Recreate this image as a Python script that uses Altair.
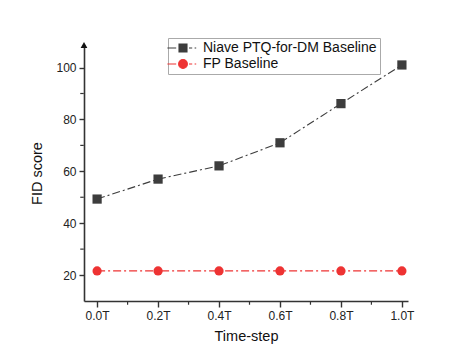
import altair as alt
import pandas as pd

steps = [0.0, 0.2, 0.4, 0.6, 0.8, 1.0]
niave = [49.3, 57.0, 62.1, 71.0, 86.1, 101.0]
fp = [21.6, 21.6, 21.6, 21.6, 21.6, 21.6]
names = ["Niave PTQ-for-DM Baseline", "FP Baseline"]
y_ticks = [20, 40, 60, 80, 100]
y_minor = [30, 50, 70, 90]
x_minor = [0.1, 0.3, 0.5, 0.7, 0.9]

rows = []
for s, a, b in zip(steps, niave, fp):
    rows.append({"step": s, "fid": a, "series": names[0]})
    rows.append({"step": s, "fid": b, "series": names[1]})
df = pd.DataFrame(rows)

colors = ["#3d3d3d", "#ee3333"]
xs = alt.Scale(domain=[-0.043, 1.02], nice=False, zero=False)
ys = alt.Scale(domain=[10, 108.7], nice=False, zero=False)

axis_common = dict(
    domainColor="#333333", domainWidth=1.6, tickColor="#333333", tickWidth=1.4,
    labelFont="Liberation Sans", labelFontSize=12, labelColor="#222222",
    titleFont="Liberation Sans", titleFontSize=14.5, titleFontWeight="normal",
    titleColor="#111111", grid=False,
)

x_enc = alt.X("step:Q", scale=xs, axis=alt.Axis(
    values=steps, labelExpr="format(datum.value, '.1f') + 'T'", tickSize=6,
    labelPadding=3, title="Time-step", titlePadding=8, **axis_common))
y_enc = alt.Y("fid:Q", scale=ys, axis=alt.Axis(
    values=y_ticks, tickSize=5, labelPadding=3, title="FID score",
    titlePadding=11, **axis_common))

base = alt.Chart(df)

lines = base.mark_line(strokeWidth=1.1, strokeDash=[8, 3, 2, 3]).encode(
    x=x_enc, y=y_enc,
    color=alt.Color("series:N", scale=alt.Scale(domain=names, range=colors), legend=None),
    detail="series:N",
)

points = base.mark_point(filled=True, opacity=1, size=85, strokeWidth=0.8).encode(
    x="step:Q", y="fid:Q",
    color=alt.Color("series:N", scale=alt.Scale(domain=names, range=colors), legend=None),
    shape=alt.Shape("series:N", scale=alt.Scale(domain=names, range=["square", "circle"]),
                    legend=None),
)

# legend symbols: dash, marker, short dash, dot  (units: -1..1 = marker half size)
sq_path = ("M-3.9,0H-1.7M-1,-1H1V1H-1Z"
           "M1.5,0H2.3M2.9,0H3.3")
ci_path = ("M-3.9,0H-1.7M-1.1,0A1.1,1.1 0 1,0 1.1,0A1.1,1.1 0 1,0 -1.1,0Z"
           "M1.5,0H2.3M2.9,0H3.3")

leg = alt.Legend(
    title=None, orient="none", legendX=84, legendY=-7,
    strokeColor="#aaaaaa", padding=3, rowPadding=2,
    symbolSize=64, symbolStrokeWidth=1.1, symbolOffset=5,
    labelOffset=13, labelLimit=400, labelFont="Liberation Sans",
    labelFontSize=14, labelColor="#111111", fillColor="white",
)

cscale = alt.Scale(domain=names, range=colors)
legend_layer = base.mark_point(filled=True, opacity=1, strokeWidth=1.1).encode(
    x="step:Q", y="fid:Q",
    shape=alt.Shape("series:N", scale=alt.Scale(domain=names, range=[sq_path, ci_path]),
                    legend=leg),
    color=alt.Color("series:N", scale=cscale, legend=leg),
    stroke=alt.Stroke("series:N", scale=cscale, legend=leg),
).transform_filter("false")

# minor axis ticks (x: below the axis line, y: left of the axis line)
x_minor_ticks = alt.Chart(pd.DataFrame({"mx": x_minor})).mark_tick(
    orient="vertical", size=3.5, thickness=1.2, color="#333333", opacity=1
).encode(x="mx:Q", y=alt.value(258))

y_minor_ticks = alt.Chart(pd.DataFrame({"my": y_minor})).mark_tick(
    orient="horizontal", size=3.5, thickness=1.2, color="#333333", opacity=1
).encode(y="my:Q", x=alt.value(-2))

arrow = alt.Chart(pd.DataFrame({"a": [0]})).mark_point(
    shape="triangle-up", filled=True, size=45, color="#111111", opacity=1
).encode(x=alt.value(0), y=alt.value(0))

chart = alt.layer(lines, points, legend_layer, x_minor_ticks, y_minor_ticks, arrow).resolve_scale(
    color="independent", shape="independent", stroke="independent"
).properties(
    width=324, height=256,
    autosize=alt.AutoSizeParams(type="none"),
    padding={"left": 76, "top": 37, "right": 50, "bottom": 55},
).configure_view(stroke=None)

chart.save("out.html", embed_options={"renderer": "svg", "actions": False})
